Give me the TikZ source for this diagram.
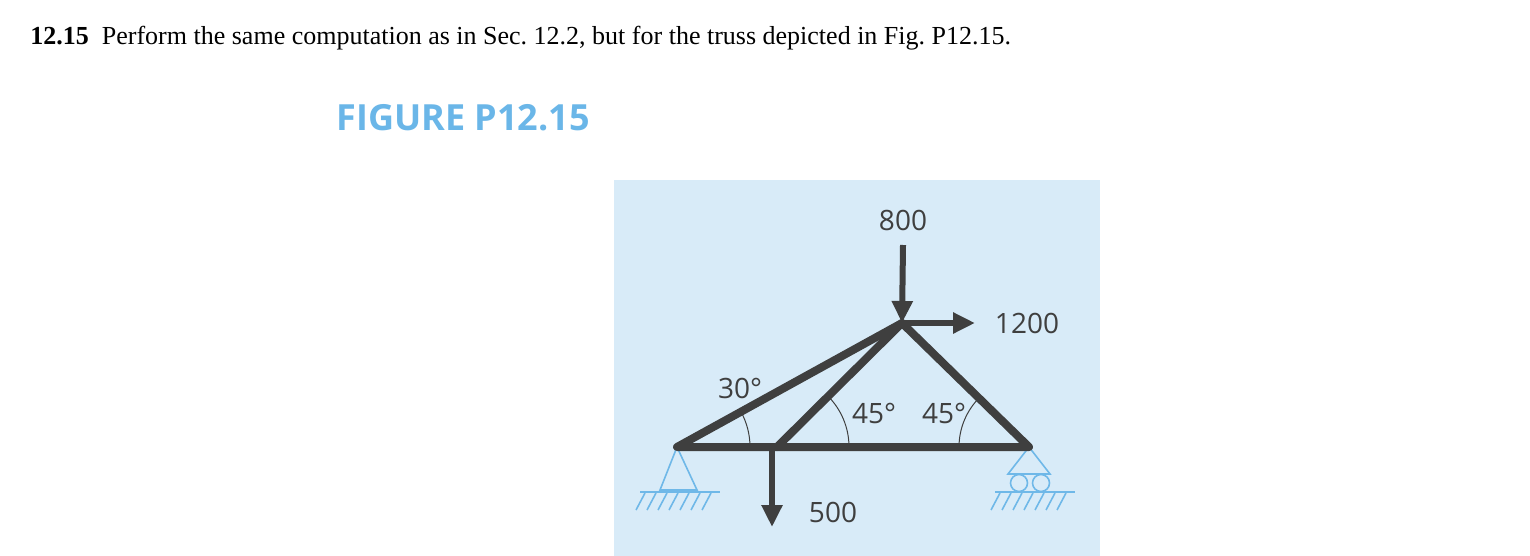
\documentclass[tikz,border=0pt]{standalone}
\usepackage{fontspec}
\setmainfont{Liberation Serif}
\newfontfamily\lab{Open Sans}
\usetikzlibrary{arrows.meta}
\definecolor{bgblue}{HTML}{D8EBF8}
\definecolor{figblue}{HTML}{6AB6E8}
\definecolor{member}{HTML}{3F3F3F}
\definecolor{supp}{HTML}{6FB8E8}
\tikzset{
  mem/.style={line width=4pt,draw=member,line cap=round,line join=round},
  load/.style={line width=3pt,draw=member,-{Triangle[length=11pt,width=10pt]}},
  lbl/.style={font=\lab\fontsize{14}{16}\selectfont,text=member,inner sep=0pt},
  ang/.style={draw=member,line width=0.5pt},
  sup/.style={draw=supp,line width=0.8pt}
}
\begin{document}
\begin{tikzpicture}[x=0.5pt,y=-0.5pt]
\useasboundingbox (0,0) rectangle (1530,556);
\fill[white] (0,0) rectangle (1530,556);
\fill[bgblue] (614,180) rectangle (1100,556);
\node[anchor=west,inner sep=0pt,font=\fontsize{13}{15}\selectfont] (title) at (30,38) {\textbf{12.15}\ \ Perform the same computation as in Sec.~12.2, but for the truss depicted in Fig.~P12.15.};
\node[anchor=west,inner sep=0pt,font=\lab\bfseries\fontsize{18}{20}\selectfont,text=figblue] (fig) at (336,118) {FIGURE P12.15};
\coordinate (A) at (677,447);
\coordinate (B) at (777,447);
\coordinate (C) at (1029,447);
\coordinate (D) at (902,323);
% supports
\draw[sup] (A) -- (660,490) -- (697,490) -- cycle;
\draw[sup] (640,492) -- (720,492);
\foreach \x in {645,656,...,715} \draw[sup] (\x,493) -- (\x-9,510);
\draw[sup] (C) -- (1008,474) -- (1050,474) -- cycle;
\draw[sup] (1019,483) circle[radius=8.5];
\draw[sup] (1041,483) circle[radius=8.5];
\draw[sup] (995,492) -- (1075,492);
\foreach \x in {1000,1011,...,1070} \draw[sup] (\x,493) -- (\x-9,510);
% angle arcs
\draw[ang] ([shift={(0:73)}]A) arc[start angle=0,end angle=-29,radius=73];
\draw[ang] ([shift={(0:72)}]B) arc[start angle=0,end angle=-45,radius=72];
\draw[ang] ([shift={(180:70)}]C) arc[start angle=180,end angle=225,radius=70];
% members
\draw[mem] (A) -- (C) -- (D) -- cycle;
\draw[mem] (B) -- (D);
% loads
\coordinate (t800) at (903,245);
\coordinate (e1200) at (975,323);
\coordinate (e500) at (772,527);
\draw[load] (t800) -- (D);
\draw[load] (D) -- (e1200);
\draw[load] (772,449) -- (e500);
\node[lbl] (l800) at (903,220) {800};
\node[lbl] (l1200) at (1027,323) {1200};
\node[lbl] (l500) at (833,512) {500};
\node[lbl] (a30) at (740,388) {30°};
\node[lbl] (a45a) at (874,413) {45°};
\node[lbl] (a45b) at (944,413) {45°};
\end{tikzpicture}
\end{document}
